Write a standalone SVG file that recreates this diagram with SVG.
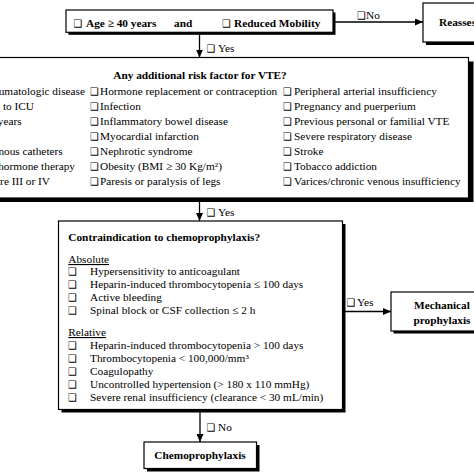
<svg xmlns="http://www.w3.org/2000/svg" width="474" height="474" viewBox="0 0 474 474">
<style>
text{font-family:"Liberation Serif","Times New Roman",serif;font-size:11.3px;fill:#000}
.b{font-weight:bold}
.cb{font-family:"DejaVu Sans",sans-serif;font-size:10px;font-weight:normal}
.box{fill:#fff;stroke:#000;stroke-width:1.2}
.sh{fill:#000}
.con{stroke:#000;stroke-width:1.3;fill:none;marker-end:url(#ah)}
.u{text-decoration:underline}
</style>
<defs>
<marker id="ah" markerUnits="userSpaceOnUse" markerWidth="8" markerHeight="7" refX="8" refY="3.5" orient="auto">
<path d="M0,0 L8,3.5 L0,7 z" fill="#000"/>
</marker>
</defs>
<rect width="474" height="474" fill="#fff"/>

<g id="connectors">
<line class="con" x1="333" y1="22" x2="423" y2="22"/>
<line class="con" x1="199.5" y1="34" x2="199.5" y2="57.5"/>
<line class="con" x1="199.5" y1="202" x2="199.5" y2="221"/>
<line class="con" x1="343" y1="311.5" x2="391" y2="311.5"/>
<line class="con" x1="200" y1="412" x2="200" y2="442"/>
<text><tspan class="cb" x="357" y="19">❑</tspan><tspan x="366" y="19">No</tspan></text>
<text><tspan class="cb" x="206.5" y="51.5">❑</tspan><tspan x="218" y="51.5">Yes</tspan></text>
<text><tspan class="cb" x="206.5" y="215.5">❑</tspan><tspan x="218" y="215.5">Yes</tspan></text>
<text><tspan class="cb" x="346.5" y="306">❑</tspan><tspan x="357" y="306">Yes</tspan></text>
<text><tspan class="cb" x="206.5" y="430.5">❑</tspan><tspan x="218" y="430.5">No</tspan></text>
</g>

<g id="start">
<rect class="sh" x="68.5" y="12.5" width="267" height="22.3"/>
<rect class="box" x="66" y="10" width="267" height="22.3"/>
<text class="b"><tspan class="cb" x="73.5" y="26.5">❑</tspan><tspan x="86" y="26.5">Age ≥ 40 years</tspan><tspan x="174" y="26.5">and</tspan><tspan class="cb" x="222" y="26.5">❑</tspan><tspan x="234" y="26.5">Reduced Mobility</tspan></text>
</g>

<g id="reassess">
<rect class="sh" x="426" y="6" width="60" height="39"/>
<rect class="box" x="423" y="3" width="60" height="39"/>
<text class="b" x="439" y="26">Reassess</text>
</g>

<g id="risk-factors">
<rect class="sh" x="-2" y="61.5" width="475.5" height="140.5"/>
<rect class="box" x="-6" y="57.5" width="474.5" height="140.5"/>
<text class="b" x="200" y="79" text-anchor="middle">Any additional risk factor for VTE?</text>
<g text-anchor="end">
<text x="85" y="95.3">umatologic disease</text>
<text x="34" y="110.3">n to ICU</text>
<text x="21.7" y="125.3">years</text>
<text x="62.7" y="155.3">nous catheters</text>
<text x="75" y="170.3">hormone therapy</text>
<text x="50" y="185.3">tre III or IV</text>
</g>
<text><tspan class="cb" x="90" y="95.3">❑</tspan><tspan x="100" y="95.3">Hormone replacement or contraception</tspan></text>
<text><tspan class="cb" x="90" y="110.3">❑</tspan><tspan x="100" y="110.3">Infection</tspan></text>
<text><tspan class="cb" x="90" y="125.3">❑</tspan><tspan x="100" y="125.3">Inflammatory bowel disease</tspan></text>
<text><tspan class="cb" x="90" y="140.3">❑</tspan><tspan x="100" y="140.3">Myocardial infarction</tspan></text>
<text><tspan class="cb" x="90" y="155.3">❑</tspan><tspan x="100" y="155.3">Nephrotic syndrome</tspan></text>
<text><tspan class="cb" x="90" y="170.3">❑</tspan><tspan x="100" y="170.3">Obesity (BMI ≥ 30 Kg/m²)</tspan></text>
<text><tspan class="cb" x="90" y="185.3">❑</tspan><tspan x="100" y="185.3">Paresis or paralysis of legs</tspan></text>
<text><tspan class="cb" x="283" y="95.3">❑</tspan><tspan x="294" y="95.3">Peripheral arterial insufficiency</tspan></text>
<text><tspan class="cb" x="283" y="110.3">❑</tspan><tspan x="294" y="110.3">Pregnancy and puerperium</tspan></text>
<text><tspan class="cb" x="283" y="125.3">❑</tspan><tspan x="294" y="125.3">Previous personal or familial VTE</tspan></text>
<text><tspan class="cb" x="283" y="140.3">❑</tspan><tspan x="294" y="140.3">Severe respiratory disease</tspan></text>
<text><tspan class="cb" x="283" y="155.3">❑</tspan><tspan x="294" y="155.3">Stroke</tspan></text>
<text><tspan class="cb" x="283" y="170.3">❑</tspan><tspan x="294" y="170.3">Tobacco addiction</tspan></text>
<text><tspan class="cb" x="283" y="185.3">❑</tspan><tspan x="294" y="185.3">Varices/chronic venous insufficiency</tspan></text>
</g>

<g id="contraindication">
<rect class="sh" x="61.5" y="224" width="284" height="188.5"/>
<rect class="box" x="58.5" y="221" width="284" height="188.5"/>
<text class="b" x="68.3" y="241">Contraindication to chemoprophylaxis?</text>
<text class="u" x="68.3" y="263">Absolute</text>
<text><tspan class="cb" x="68" y="275">❑</tspan><tspan x="90" y="275">Hypersensitivity to anticoagulant</tspan></text>
<text><tspan class="cb" x="68" y="288">❑</tspan><tspan x="90" y="288">Heparin-induced thrombocytopenia ≤ 100 days</tspan></text>
<text><tspan class="cb" x="68" y="301">❑</tspan><tspan x="90" y="301">Active bleeding</tspan></text>
<text><tspan class="cb" x="68" y="314">❑</tspan><tspan x="90" y="314">Spinal block or CSF collection ≤ 2 h</tspan></text>
<text class="u" x="68.3" y="336">Relative</text>
<text><tspan class="cb" x="68" y="349">❑</tspan><tspan x="90" y="349">Heparin-induced thrombocytopenia &gt; 100 days</tspan></text>
<text><tspan class="cb" x="68" y="362">❑</tspan><tspan x="90" y="362">Thrombocytopenia &lt; 100,000/mm³</tspan></text>
<text><tspan class="cb" x="68" y="375">❑</tspan><tspan x="90" y="375">Coagulopathy</tspan></text>
<text><tspan class="cb" x="68" y="388">❑</tspan><tspan x="90" y="388">Uncontrolled hypertension (&gt; 180 x 110 mmHg)</tspan></text>
<text><tspan class="cb" x="68" y="401">❑</tspan><tspan x="90" y="401">Severe renal insufficiency (clearance &lt; 30 mL/min)</tspan></text>
</g>

<g id="mechanical">
<rect class="sh" x="393.5" y="294.5" width="90" height="39"/>
<rect class="box" x="391" y="292" width="90" height="39"/>
<text class="b" x="442" y="309" text-anchor="middle">Mechanical</text>
<text class="b" x="442" y="324" text-anchor="middle">prophylaxis</text>
</g>

<g id="chemoprophylaxis">
<rect class="sh" x="147" y="445" width="112.5" height="26.5"/>
<rect class="box" x="144" y="442" width="112.5" height="26.5"/>
<text class="b" x="200" y="459" text-anchor="middle">Chemoprophylaxis</text>
</g>
</svg>
